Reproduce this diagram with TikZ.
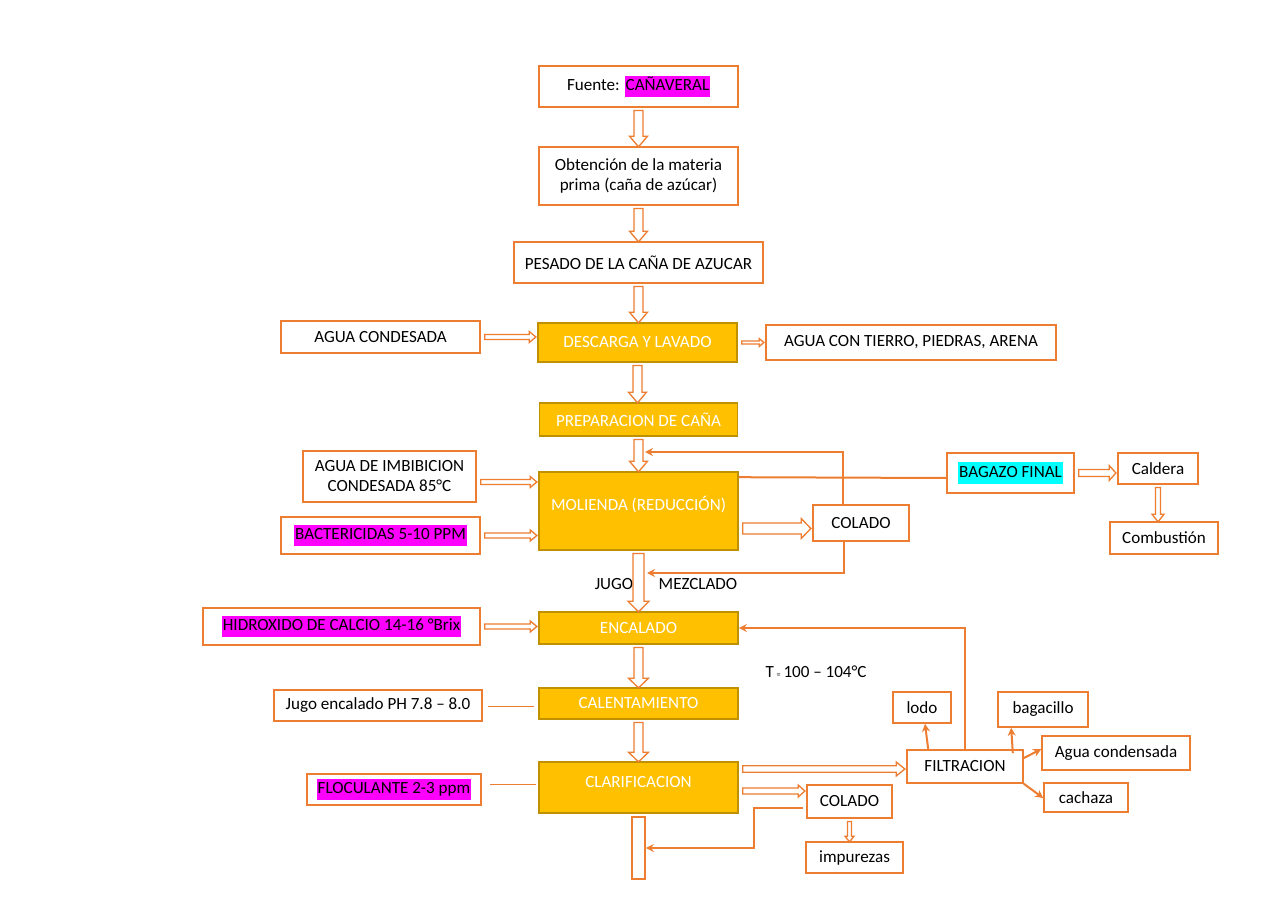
\documentclass[tikz,border=0pt]{standalone}
\usepackage{fontspec}
\setmainfont{Carlito}
\usetikzlibrary{calc,arrows.meta}
\definecolor{flowor}{HTML}{ED7D31}
\definecolor{flowgold}{HTML}{FFC000}
\definecolor{flowrim}{HTML}{BF9000}
\definecolor{hlmag}{HTML}{FF00FF}
\definecolor{hlcyan}{HTML}{00FFFF}
\newcommand{\hlm}[1]{{\setlength{\fboxsep}{0.6pt}\colorbox{hlmag}{\strut #1}}}
\newcommand{\hlc}[1]{{\setlength{\fboxsep}{0.6pt}\colorbox{hlcyan}{\strut #1}}}
\tikzset{
  txt/.style={font=\fontsize{12.8}{15}\selectfont},
  flowbox/.style={txt,draw=flowor,line width=1.2pt,fill=white,align=center,inner sep=2pt},
  goldbox/.style={flowbox,fill=flowgold,draw=flowrim,text=white},
  wh/.style 2 args={minimum width=#1*0.75pt,minimum height=#2*0.75pt},
  hollow/.style={draw=flowor,line width=1pt,fill=white,line join=miter},
  backflow/.style={draw=flowor,line width=1.5pt,-{Stealth[length=6pt,width=6pt]}},
  thinlink/.style={draw=flowor,line width=0.7pt}}
% hollow block arrows: shaft half width, head half width, head length (px), from, to
\newcommand{\hollowdown}[5]{\draw[hollow] let \p1=#4, \p2=#5 in
  (\x1-#1*0.75pt,\y1-2pt) -- (\x1-#1*0.75pt,\y2+#3*0.75pt) -- (\x1-#2*0.75pt,\y2+#3*0.75pt) -- (\x1,\y2-0.5pt)
  -- (\x1+#2*0.75pt,\y2+#3*0.75pt) -- (\x1+#1*0.75pt,\y2+#3*0.75pt) -- (\x1+#1*0.75pt,\y1-2pt) -- cycle;}
\newcommand{\hollowright}[5]{\draw[hollow] let \p1=#4, \p2=#5 in
  (\x1+3pt,\y1-#1*0.75pt) -- (\x2-#3*0.75pt,\y1-#1*0.75pt) -- (\x2-#3*0.75pt,\y1-#2*0.75pt) -- (\x2-1pt,\y1)
  -- (\x2-#3*0.75pt,\y1+#2*0.75pt) -- (\x2-#3*0.75pt,\y1+#1*0.75pt) -- (\x1+3pt,\y1+#1*0.75pt) -- cycle;}

\begin{document}
\begin{tikzpicture}[x=0.75pt,y=-0.75pt]
  \useasboundingbox (0,0) rectangle (1280,905);

  % main line
  \node[flowbox,wh={199}{41}] (fuente) at (638.5,86.5) {Fuente: \hlm{CAÑAVERAL}};
  \node[flowbox,wh={199}{58}] (obtencion) at (638.5,176) {Obtención de la materia\\prima (caña de azúcar)};
  \node[flowbox,wh={249}{41}] (pesado) at (638.5,262.5) {PESADO DE LA CAÑA DE AZUCAR};
  \node[goldbox,wh={199}{39}] (descarga) at (637.5,342.5) {DESCARGA Y LAVADO};
  \node[goldbox,wh={198}{33}] (preparacion) at (638.5,419.5) {PREPARACION DE CAÑA};
  \node[goldbox,wh={199}{78},text depth=11.5pt] (molienda) at (638.5,511) {MOLIENDA (REDUCCIÓN)};
  \node[goldbox,wh={199}{32}] (encalado) at (638.5,628) {ENCALADO};
  \node[goldbox,wh={199}{31}] (calentamiento) at (638.5,703.5) {CALENTAMIENTO};
  \node[goldbox,wh={199}{51},text depth=8pt] (clarificacion) at (638.5,787.5) {CLARIFICACION};
  \node[flowbox,wh={13}{62},inner sep=0pt] (salida) at (638.5,848) {};

  % inputs
  \node[flowbox,wh={199}{32}] (aguacond) at (380.5,337) {AGUA CONDESADA};
  \node[flowbox,wh={173}{51}] (imbibicion) at (389.5,476.5) {AGUA DE IMBIBICION\\CONDESADA 85°C};
  \node[flowbox,wh={199}{37}] (bactericidas) at (380.5,535.5) {\hlm{BACTERICIDAS 5-10 PPM}};
  \node[flowbox,wh={277}{37}] (hidroxido) at (341.5,626.5) {\hlm{HIDROXIDO DE CALCIO 14-16 °Brix}};
  \node[flowbox,wh={208}{31}] (jugoenc) at (378,705.5) {Jugo encalado PH 7.8 – 8.0};
  \node[flowbox,wh={174}{31}] (floculante) at (394,789.5) {\hlm{FLOCULANTE 2-3 ppm}};

  % outputs
  \node[flowbox,wh={290}{35}] (tierra) at (911,342.5) {AGUA CON TIERRO, PIEDRAS, ARENA};
  \node[flowbox,wh={96}{36}] (colado) at (861,523) {COLADO};
  \node[flowbox,wh={127}{40}] (bagazo) at (1010.5,473) {\hlc{BAGAZO FINAL}};
  \node[flowbox,wh={80}{31}] (caldera) at (1158,468.5) {Caldera};
  \node[flowbox,wh={108}{32}] (combustion) at (1164,538) {Combustión};
  \node[flowbox,wh={116}{33}] (filtracion) at (965,766.5) {FILTRACION};
  \node[flowbox,wh={58}{31}] (lodo) at (922,707.5) {lodo};
  \node[flowbox,wh={90}{35}] (bagacillo) at (1043,709.5) {bagacillo};
  \node[flowbox,wh={148}{34}] (aguacond2) at (1116,753) {Agua condensada};
  \node[flowbox,wh={84}{29}] (cachaza) at (1086,797.5) {cachaza};
  \node[flowbox,wh={85}{33}] (colado2) at (849.5,801.5) {COLADO};
  \node[flowbox,wh={97}{31}] (impurezas) at (854.5,857.5) {impurezas};

  \node[txt] (jugo) at (614,584) {JUGO};
  \node[txt] (mezclado) at (698,584) {MEZCLADO};
  \node[txt] (temp) at (816,672) {T\,{\fontsize{6}{6}\selectfont=}\,100 – 104°C};

  \coordinate (mixin1) at (645,452);
  \coordinate (mixin2) at (647,573);

  % hollow arrows
  \hollowdown{4.5}{9}{10}{(fuente.south)}{(obtencion.north)}
  \hollowdown{4.5}{9}{10}{(obtencion.south)}{(pesado.north)}
  \hollowdown{4.5}{9}{10}{(pesado.south)}{(descarga.north)}
  \hollowdown{4.5}{9}{10}{(descarga.south)}{(preparacion.north)}
  \hollowdown{4.5}{9}{10}{(preparacion.south)}{(molienda.north)}
  \hollowdown{5.5}{10.5}{10}{(molienda.south)}{(encalado.north)}
  \hollowdown{4.5}{10}{9}{(encalado.south)}{(calentamiento.north)}
  \hollowdown{4.5}{10}{9}{(calentamiento.south)}{(clarificacion.north)}
  \hollowdown{2.5}{6}{7}{(caldera.south)}{(combustion.north)}
  \hollowdown{2}{4.5}{5}{(colado2.south)}{(impurezas.north)}
  \hollowright{2.5}{5.5}{8}{(aguacond.east)}{(descarga.west)}
  \hollowright{1.5}{4}{6}{(descarga.east)}{(tierra.west)}
  \hollowright{2.5}{5.5}{8}{($(imbibicion.east)+(0,5.5)$)}{(molienda.west)}
  \hollowright{2.5}{5.5}{8}{(bactericidas.east)}{(molienda.west)}
  \hollowright{5.5}{10}{11}{($(molienda.east|-colado.west)+(0,5.5)$)}{(colado.west)}
  \hollowright{2.5}{5.5}{8}{(hidroxido.east)}{(encalado.west)}
  \hollowright{3.5}{7.5}{8}{(bagazo.east)}{(caldera.west)}
  \hollowright{3.3}{7}{10}{($(clarificacion.east|-filtracion.west)+(0,2.5)$)}{(filtracion.west)}
  \hollowright{3}{6}{8}{($(clarificacion.east|-colado2.west)+(0,-10.5)$)}{(colado2.west)}

  % plain links
  \draw[backflow] ($(colado.north west)+(31,0)$) |- (mixin1);
  \draw[backflow] ($(colado.south west)+(32,0)$) |- (mixin2);
  \draw[flowor,line width=1.5pt] ($(molienda.north east)+(0,6)$) -- ($(bagazo.west)+(0,5)$);
  \draw[backflow] (filtracion.north) |- (encalado.east);
  \draw[backflow] ($(filtracion.north west)+(22,0)$) -- ($(lodo.south)+(3,0)$);
  \draw[backflow] ($(filtracion.north east)+(-11,4)$) -- ($(bagacillo.south west)+(14,0)$);
  \draw[backflow] ($(filtracion.east)+(0,-8.5)$) -- (aguacond2.west|-filtracion.north east);
  \draw[backflow] (filtracion.south east) -- ($(cachaza.west)+(0,0.5)$);
  \draw[backflow] ($(colado2.west)+(-3,6.5)$) -- ($(colado2.west)+(-52,6.5)$) |- (salida.east);
  \draw[thinlink] ($(jugoenc.east)+(5,0.5)$) -- ($(calentamiento.west|-jugoenc.east)+(-4,0.5)$);
  \draw[thinlink] ($(floculante.east)+(8,-5.5)$) -- ($(clarificacion.west|-floculante.east)+(-2,-5.5)$);
\end{tikzpicture}
\end{document}
